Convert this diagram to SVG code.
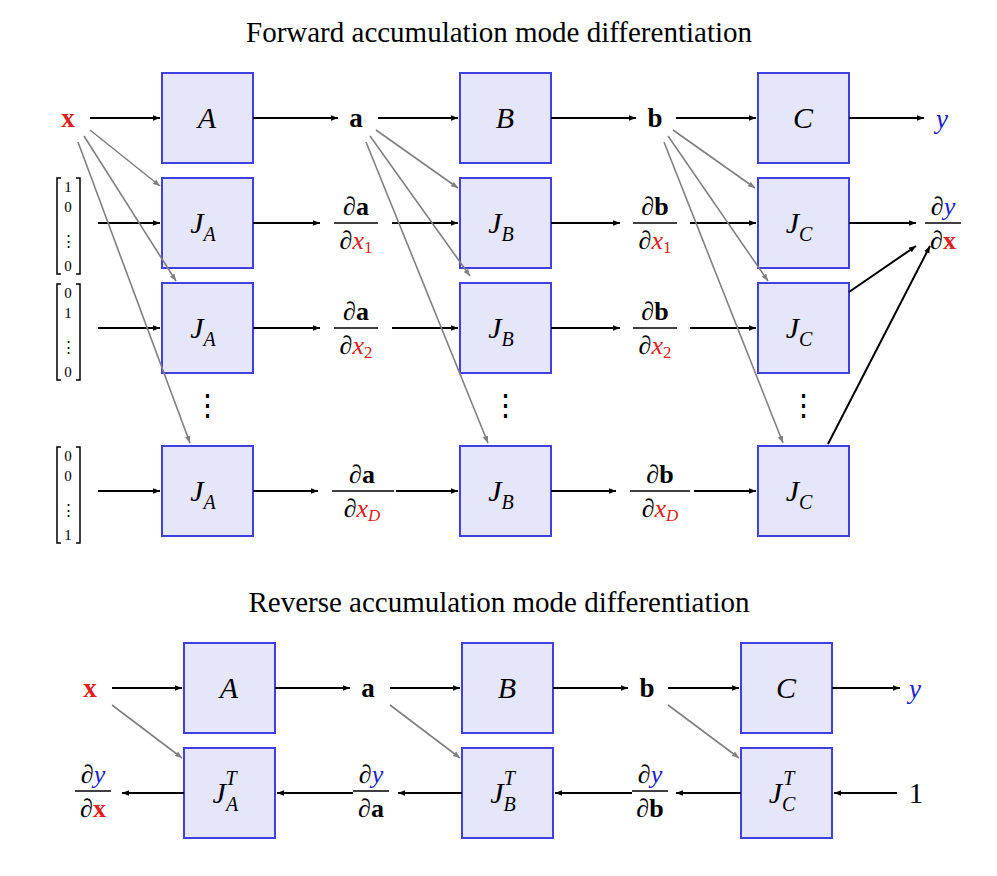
<svg xmlns="http://www.w3.org/2000/svg" width="997" height="876" viewBox="0 0 997 876" font-family="'Liberation Serif','DejaVu Serif',serif">
<defs>
<marker id="ab" viewBox="0 0 10 10" refX="10" refY="5" markerWidth="7" markerHeight="7" markerUnits="userSpaceOnUse" orient="auto"><path d="M0,1 L10,5 L0,9 Z" fill="#000"/></marker>
<marker id="ag" viewBox="0 0 10 10" refX="10" refY="5" markerWidth="7" markerHeight="7" markerUnits="userSpaceOnUse" orient="auto"><path d="M0,1 L10,5 L0,9 Z" fill="#808080"/></marker>
<style>
.box{fill:#e6e6fb;stroke:#4040e0;stroke-width:2}
text{font-family:'Liberation Serif','DejaVu Serif',serif;fill:#000}
.t{font-size:29px;text-anchor:middle}
.m{font-size:30px;font-style:italic;text-anchor:middle}
.s{font-size:20px;font-style:italic}
.v{font-size:27px;font-weight:bold;text-anchor:middle}
.f{font-size:26px;text-anchor:middle}
.r{fill:#e02020}
.b{fill:#2020d0}
.k{stroke:#000;stroke-width:2;fill:none;marker-end:url(#ab)}
.g{stroke:#808080;stroke-width:1.6;fill:none;marker-end:url(#ag)}
.vec{font-size:15px;text-anchor:middle}
.br{stroke:#000;stroke-width:1.5;fill:none}
</style>
</defs>
<text class="t" x="499" y="42">Forward accumulation mode differentiation</text>
<text class="t" x="499" y="612">Reverse accumulation mode differentiation</text>

<g id="nodes">
<g id="A"><rect class="box" x="162" y="73" width="91" height="90"/><text class="m" x="207" y="128">A</text></g>
<g id="B"><rect class="box" x="460" y="73" width="91" height="90"/><text class="m" x="505" y="128">B</text></g>
<g id="C"><rect class="box" x="758" y="73" width="91" height="90"/><text class="m" x="803" y="128">C</text></g>
<g id="JA1"><rect class="box" x="162" y="178" width="91" height="90"/><text class="m" x="203" y="233">J<tspan class="s" dy="8">A</tspan></text></g>
<g id="JB1"><rect class="box" x="460" y="178" width="91" height="90"/><text class="m" x="501" y="233">J<tspan class="s" dy="8">B</tspan></text></g>
<g id="JC1"><rect class="box" x="758" y="178" width="91" height="90"/><text class="m" x="799" y="233">J<tspan class="s" dy="8">C</tspan></text></g>
<g id="JA2"><rect class="box" x="162" y="283" width="91" height="90"/><text class="m" x="203" y="338">J<tspan class="s" dy="8">A</tspan></text></g>
<g id="JB2"><rect class="box" x="460" y="283" width="91" height="90"/><text class="m" x="501" y="338">J<tspan class="s" dy="8">B</tspan></text></g>
<g id="JC2"><rect class="box" x="758" y="283" width="91" height="90"/><text class="m" x="799" y="338">J<tspan class="s" dy="8">C</tspan></text></g>
<g id="JAD"><rect class="box" x="162" y="446" width="91" height="90"/><text class="m" x="203" y="501">J<tspan class="s" dy="8">A</tspan></text></g>
<g id="JBD"><rect class="box" x="460" y="446" width="91" height="90"/><text class="m" x="501" y="501">J<tspan class="s" dy="8">B</tspan></text></g>
<g id="JCD"><rect class="box" x="758" y="446" width="91" height="90"/><text class="m" x="799" y="501">J<tspan class="s" dy="8">C</tspan></text></g>

<g id="RA"><rect class="box" x="184" y="643" width="91" height="90"/><text class="m" x="229" y="698">A</text></g>
<g id="RB"><rect class="box" x="462" y="643" width="91" height="90"/><text class="m" x="507" y="698">B</text></g>
<g id="RC"><rect class="box" x="741" y="643" width="91" height="90"/><text class="m" x="786" y="698">C</text></g>
<g id="RJA"><rect class="box" x="184" y="748" width="91" height="90"/><text class="m" x="225" y="803">J<tspan class="s" dy="8">A</tspan><tspan class="s" dy="-26" dx="-12">T</tspan></text></g>
<g id="RJB"><rect class="box" x="462" y="748" width="91" height="90"/><text class="m" x="503" y="803">J<tspan class="s" dy="8">B</tspan><tspan class="s" dy="-26" dx="-12">T</tspan></text></g>
<g id="RJC"><rect class="box" x="741" y="748" width="91" height="90"/><text class="m" x="782" y="803">J<tspan class="s" dy="8">C</tspan><tspan class="s" dy="-26" dx="-12">T</tspan></text></g>

<g id="labels">
<text class="v r" x="68" y="127">x</text>
<text class="v" x="356" y="127">a</text>
<text class="v" x="655" y="127">b</text>
<text class="m b" x="942" y="128" style="font-size:27px">y</text>
<text class="v r" x="90" y="697">x</text>
<text class="v" x="368" y="697">a</text>
<text class="v" x="647" y="697">b</text>
<text class="m b" x="915" y="698" style="font-size:27px">y</text>
<text class="t" x="916" y="803">1</text>

<g><text class="f" x="356" y="215">∂<tspan font-weight="bold">a</tspan></text><line x1="334" y1="223" x2="378" y2="223" class="br"/><text class="f" x="356" y="249">∂<tspan class="r" font-style="italic">x<tspan font-size="17" dy="4" font-style="normal">1</tspan></tspan></text></g>
<g><text class="f" x="356" y="320">∂<tspan font-weight="bold">a</tspan></text><line x1="334" y1="328" x2="378" y2="328" class="br"/><text class="f" x="356" y="354">∂<tspan class="r" font-style="italic">x<tspan font-size="17" dy="4" font-style="normal">2</tspan></tspan></text></g>
<g><text class="f" x="362" y="483">∂<tspan font-weight="bold">a</tspan></text><line x1="332" y1="491" x2="394" y2="491" class="br"/><text class="f" x="362" y="517">∂<tspan class="r" font-style="italic">x<tspan font-size="17" dy="4">D</tspan></tspan></text></g>
<g><text class="f" x="655" y="215">∂<tspan font-weight="bold">b</tspan></text><line x1="633" y1="223" x2="677" y2="223" class="br"/><text class="f" x="655" y="249">∂<tspan class="r" font-style="italic">x<tspan font-size="17" dy="4" font-style="normal">1</tspan></tspan></text></g>
<g><text class="f" x="655" y="320">∂<tspan font-weight="bold">b</tspan></text><line x1="633" y1="328" x2="677" y2="328" class="br"/><text class="f" x="655" y="354">∂<tspan class="r" font-style="italic">x<tspan font-size="17" dy="4" font-style="normal">2</tspan></tspan></text></g>
<g><text class="f" x="660" y="483">∂<tspan font-weight="bold">b</tspan></text><line x1="630" y1="491" x2="690" y2="491" class="br"/><text class="f" x="660" y="517">∂<tspan class="r" font-style="italic">x<tspan font-size="17" dy="4">D</tspan></tspan></text></g>
<g><text class="f" x="943" y="215">∂<tspan class="b" font-style="italic">y</tspan></text><line x1="925" y1="223" x2="961" y2="223" class="br"/><text class="f" x="943" y="249">∂<tspan class="r" font-weight="bold">x</tspan></text></g>
<g><text class="f" x="93" y="783">∂<tspan class="b" font-style="italic">y</tspan></text><line x1="75" y1="791" x2="111" y2="791" class="br"/><text class="f" x="93" y="817">∂<tspan class="r" font-weight="bold">x</tspan></text></g>
<g><text class="f" x="371" y="783">∂<tspan class="b" font-style="italic">y</tspan></text><line x1="353" y1="791" x2="389" y2="791" class="br"/><text class="f" x="371" y="817">∂<tspan font-weight="bold">a</tspan></text></g>
<g><text class="f" x="650" y="783">∂<tspan class="b" font-style="italic">y</tspan></text><line x1="632" y1="791" x2="668" y2="791" class="br"/><text class="f" x="650" y="817">∂<tspan font-weight="bold">b</tspan></text></g>

<g><path class="br" d="M61,178 h-4 v96 h4 M76,178 h4 v96 h-4"/><text class="vec" x="68" y="192">1</text><text class="vec" x="68" y="212">0</text><text class="vec" x="68" y="246">⋮</text><text class="vec" x="68" y="271">0</text></g>
<g><path class="br" d="M61,284 h-4 v96 h4 M76,284 h4 v96 h-4"/><text class="vec" x="68" y="298">0</text><text class="vec" x="68" y="318">1</text><text class="vec" x="68" y="352">⋮</text><text class="vec" x="68" y="377">0</text></g>
<g><path class="br" d="M61,447 h-4 v96 h4 M76,447 h4 v96 h-4"/><text class="vec" x="68" y="461">0</text><text class="vec" x="68" y="481">0</text><text class="vec" x="68" y="515">⋮</text><text class="vec" x="68" y="540">1</text></g>
<text class="t" x="207" y="415">⋮</text>
<text class="t" x="505" y="415">⋮</text>
<text class="t" x="803" y="415">⋮</text>
</g>
</g>

<g id="connectors">
<path class="k" d="M90,118 H160"/><path class="k" d="M253,118 H338"/>
<path class="k" d="M378,118 H458"/><path class="k" d="M551,118 H636"/>
<path class="k" d="M676,118 H756"/><path class="k" d="M849,118 H924"/>
<path class="k" d="M98,223 H160"/><path class="k" d="M253,223 H320"/><path class="k" d="M392,223 H458"/><path class="k" d="M551,223 H620"/><path class="k" d="M690,223 H756"/><path class="k" d="M849,223 H916"/>
<path class="k" d="M98,328 H160"/><path class="k" d="M253,328 H320"/><path class="k" d="M392,328 H458"/><path class="k" d="M551,328 H620"/><path class="k" d="M690,328 H756"/>
<path class="k" d="M98,491 H160"/><path class="k" d="M253,491 H318"/><path class="k" d="M396,491 H458"/><path class="k" d="M551,491 H616"/><path class="k" d="M694,491 H756"/>
<path class="k" d="M849,292 L916,246"/><path class="k" d="M828,444 L930,246"/>
<path class="g" d="M90,130 L160,186"/><path class="g" d="M84,136 L176,281"/><path class="g" d="M78,142 L190,443"/>
<path class="g" d="M376,130 L458,188"/><path class="g" d="M370,136 L470,276"/><path class="g" d="M366,142 L488,443"/>
<path class="g" d="M673,130 L755,188"/><path class="g" d="M668,136 L768,281"/><path class="g" d="M664,142 L783,443"/>
<path class="k" d="M112,688 H182"/><path class="k" d="M275,688 H350"/><path class="k" d="M390,688 H460"/><path class="k" d="M553,688 H628"/><path class="k" d="M668,688 H739"/><path class="k" d="M832,688 H900"/>
<path class="k" d="M184,793 H122"/><path class="k" d="M462,793 H398"/><path class="k" d="M741,793 H676"/><path class="k" d="M897,793 H834"/><path class="k" d="M353,793 H277"/><path class="k" d="M632,793 H555"/>
<path class="g" d="M112,705 L182,758"/><path class="g" d="M390,705 L460,758"/><path class="g" d="M668,705 L739,758"/>
</g>
</svg>
